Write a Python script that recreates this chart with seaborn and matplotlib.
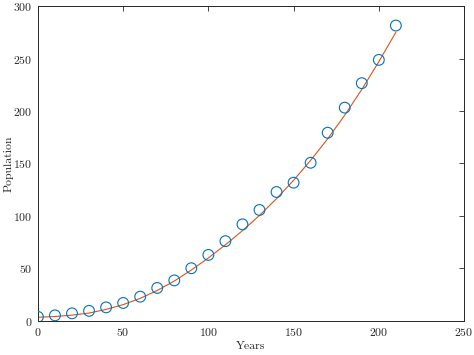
import pandas as pd
import seaborn as sns
import matplotlib.pyplot as plt

# census data (years since 1790, population in millions)
years = [0, 10, 20, 30, 40, 50, 60, 70, 80, 90, 100,
         110, 120, 130, 140, 150, 160, 170, 180, 190, 200, 210]
population = [3.9, 5.3, 7.2, 9.6, 12.9, 17.1, 23.1, 31.4, 38.6, 50.2, 62.9,
              76.0, 92.0, 105.7, 122.8, 131.7, 150.7, 179.3, 203.2, 226.5, 248.7, 281.4]
# fitted curve
fit_years = years
fit_values = [3.5, 4.2, 5.5, 7.5, 11.0, 15.5, 21.5, 29.0, 38.0, 48.5, 60.0,
              72.5, 86.0, 100.5, 116.5, 134.0, 153.0, 173.5, 196.0, 220.5, 247.0, 275.0]

sns.set_theme(style="white")
fontsize = 8.5
plt.rcParams["font.family"] = ["cmr10", "DejaVu Serif"]
plt.rcParams["axes.formatter.use_mathtext"] = True
plt.rcParams.update({"font.size": fontsize})
plt.rcParams.update({"axes.labelsize": fontsize})
plt.rcParams.update({"xtick.labelsize": fontsize})
plt.rcParams.update({"ytick.labelsize": fontsize})

df = pd.DataFrame({"Years": years, "Population": population})
fit = pd.DataFrame({"Years": fit_years, "Population": fit_values})

fig = plt.figure(figsize=(4.74, 3.55), dpi=100)
ax = fig.add_axes([0.080, 0.096, 0.899, 0.887])

sns.lineplot(data=fit, x="Years", y="Population", ax=ax, color="#D95319", linewidth=0.8)
sns.scatterplot(data=df, x="Years", y="Population", ax=ax, marker="o", s=60,
                facecolors="none", edgecolor="#0072BD", linewidth=0.8, zorder=3)

ax.set_xlim(0, 250)
ax.set_ylim(0, 300)
ax.set_xticks(range(0, 251, 50))
ax.set_yticks(range(0, 301, 50))
ax.tick_params(direction="in", length=3.5, width=0.6, color="#262626",
               top=True, right=True, labelcolor="#262626", pad=4)
for s in ax.spines.values():
    s.set_color("#262626")
    s.set_linewidth(0.7)
ax.set_xlabel("Years", color="#262626", labelpad=2)
ax.set_ylabel("Population", color="#262626")
ax.yaxis.set_label_coords(-0.058, 0.5)

plt.savefig("out.png", dpi=100)
